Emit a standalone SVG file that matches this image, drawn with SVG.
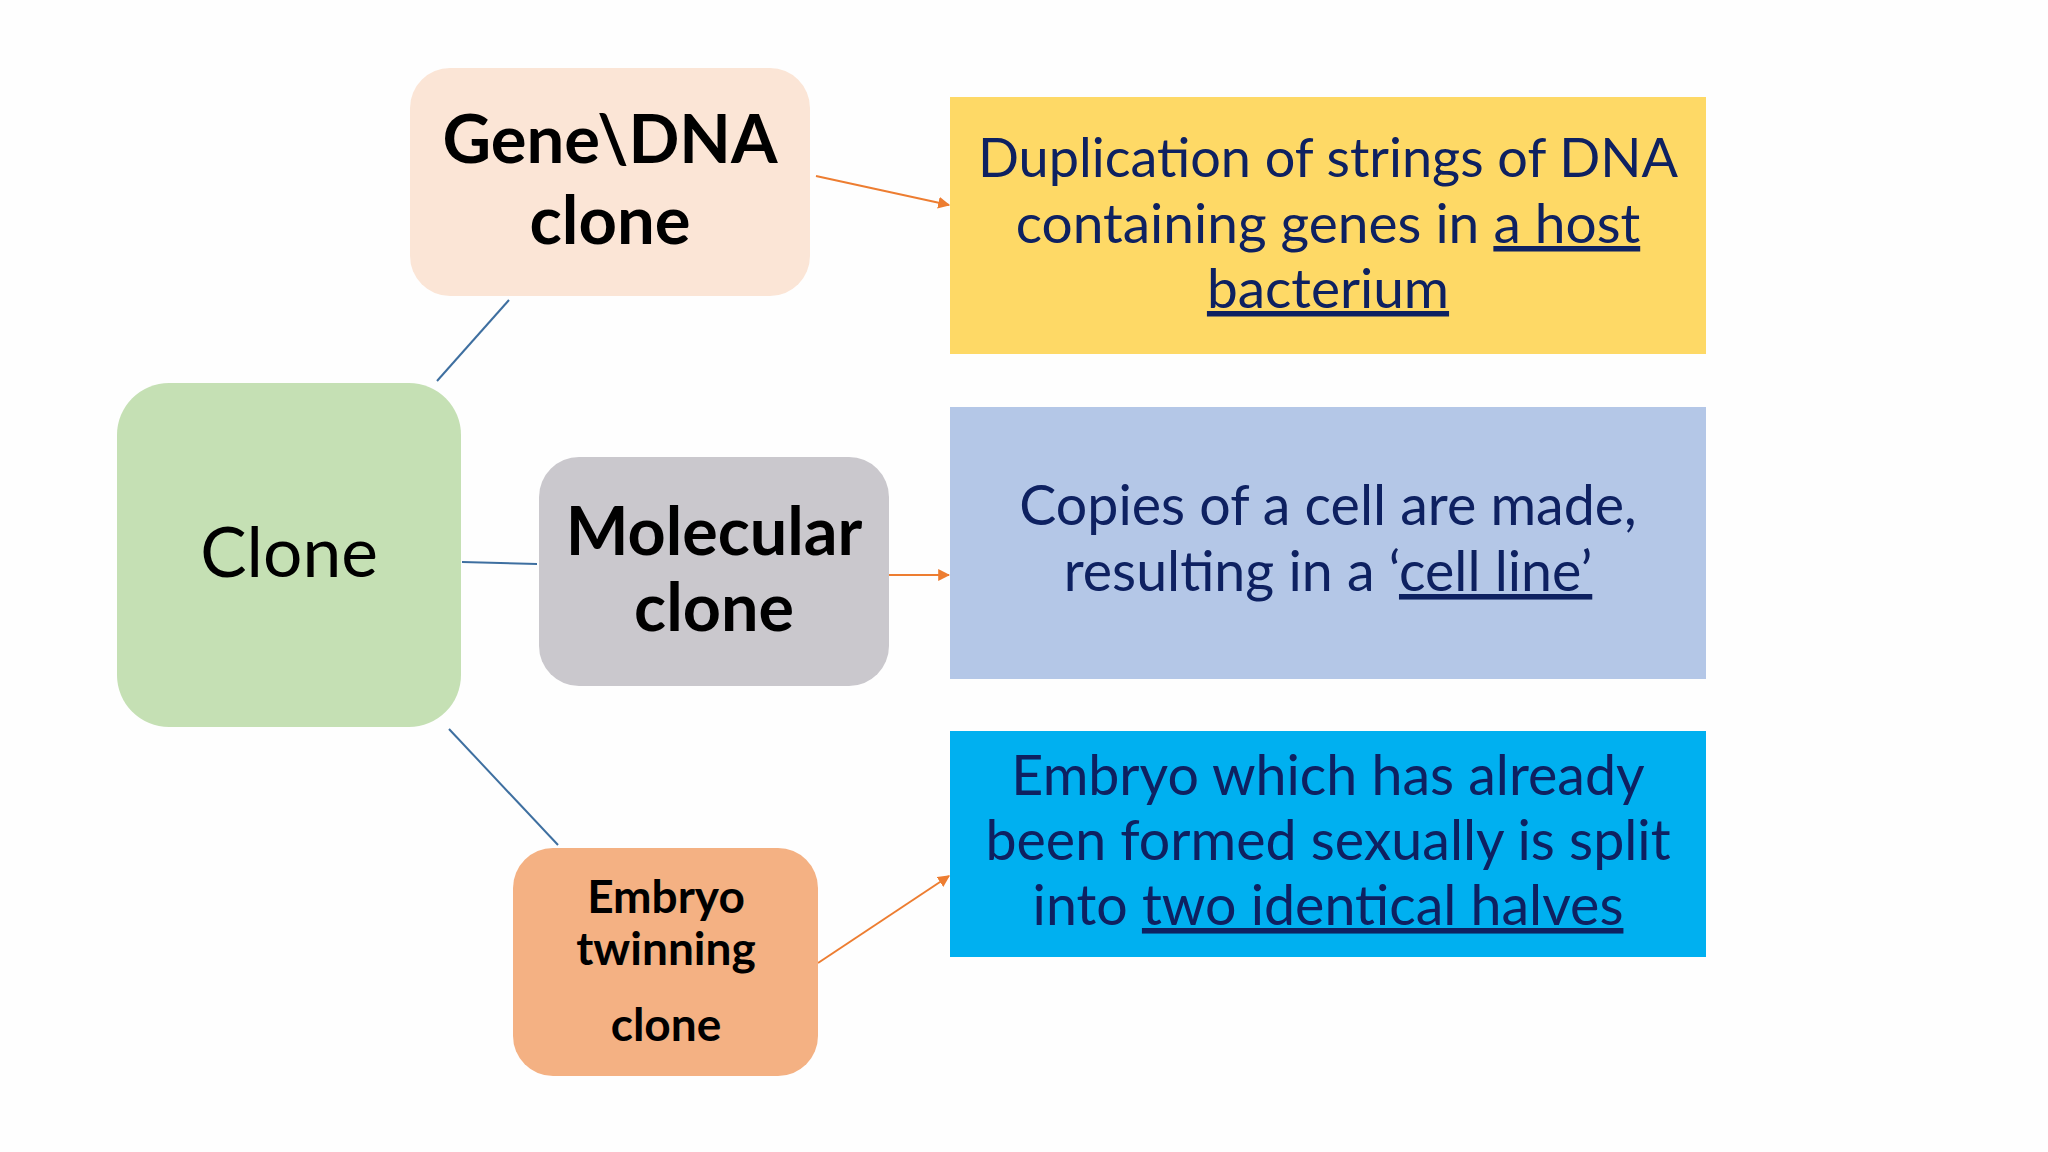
<svg xmlns="http://www.w3.org/2000/svg" width="2048" height="1152" viewBox="0 0 2048 1152">
<defs>
<style>
.node{font-family:Lato,"Liberation Sans",sans-serif;text-anchor:middle;fill:#000}
.b{font-weight:bold}
.desc{font-family:Lato,"Liberation Sans",sans-serif;text-anchor:middle;fill:#0E2161;font-size:55.5px}
.u{text-decoration:underline}
.link{stroke:#3E6FA0;stroke-width:2;fill:none}
.arr{stroke:#ED7D31;stroke-width:2;fill:none;marker-end:url(#ah)}
</style>
<marker id="ah" viewBox="0 0 10 10" refX="9" refY="5" markerWidth="6" markerHeight="6" markerUnits="strokeWidth" orient="auto">
<path d="M0,0 L10,5 L0,10 Z" fill="#ED7D31"/>
</marker>
</defs>
<rect width="2048" height="1152" fill="#FEFEFE"/>
<g id="connectors">
<line class="link" x1="437" y1="381" x2="509" y2="300"/>
<line class="link" x1="462" y1="562" x2="537" y2="564"/>
<line class="link" x1="449" y1="729" x2="558" y2="845"/>
<line class="arr" x1="816" y1="176" x2="949" y2="205"/>
<line class="arr" x1="879" y1="575" x2="949" y2="575"/>
<line class="arr" x1="818" y1="963" x2="949" y2="876"/>
</g>
<g id="clone">
<rect x="117" y="383" width="344" height="344" rx="52" fill="#C5E0B4"/>
<text class="node" x="289" y="577" font-size="69.5">Clone</text>
</g>
<g id="gene">
<rect x="410" y="68" width="400" height="228" rx="40" fill="#FBE5D6"/>
<text class="node b" x="610" y="163" font-size="67">Gene\DNA</text>
<text class="node b" x="610" y="244" font-size="67">clone</text>
</g>
<g id="molecular">
<rect x="539" y="457" width="350" height="229" rx="40" fill="#CAC8CD"/>
<text class="node b" x="714" y="555" font-size="66.5">Molecular</text>
<text class="node b" x="714" y="631" font-size="66.5">clone</text>
</g>
<g id="embryo">
<rect x="513" y="848" width="305" height="228" rx="40" fill="#F4B183"/>
<text class="node b" x="666" y="913" font-size="46">Embryo</text>
<text class="node b" x="666" y="965" font-size="46">twinning</text>
<text class="node b" x="666" y="1041" font-size="46">clone</text>
</g>
<g id="dna-desc">
<rect x="950" y="97" width="756" height="257" fill="#FED966"/>
<text class="desc" x="1328" y="177" style="font-size:54px">Duplication of strings of DNA</text>
<text class="desc" x="1328" y="243" style="font-size:55px">containing genes in <tspan class="u">a host</tspan></text>
<text class="desc" x="1328" y="308" style="font-size:55px"><tspan class="u">bacterium</tspan></text>
</g>
<g id="molecular-desc">
<rect x="950" y="407" width="756" height="272" fill="#B4C7E7"/>
<text class="desc" x="1328" y="525">Copies of a cell are made,</text>
<text class="desc" x="1328" y="591">resulting in a ‘<tspan class="u">cell line’</tspan></text>
</g>
<g id="embryo-desc">
<rect x="950" y="731" width="756" height="226" fill="#00B0F0"/>
<text class="desc" x="1328" y="795">Embryo which has already</text>
<text class="desc" x="1328" y="860">been formed sexually is split</text>
<text class="desc" x="1328" y="925">into <tspan class="u">two identical halves</tspan></text>
</g>
</svg>
